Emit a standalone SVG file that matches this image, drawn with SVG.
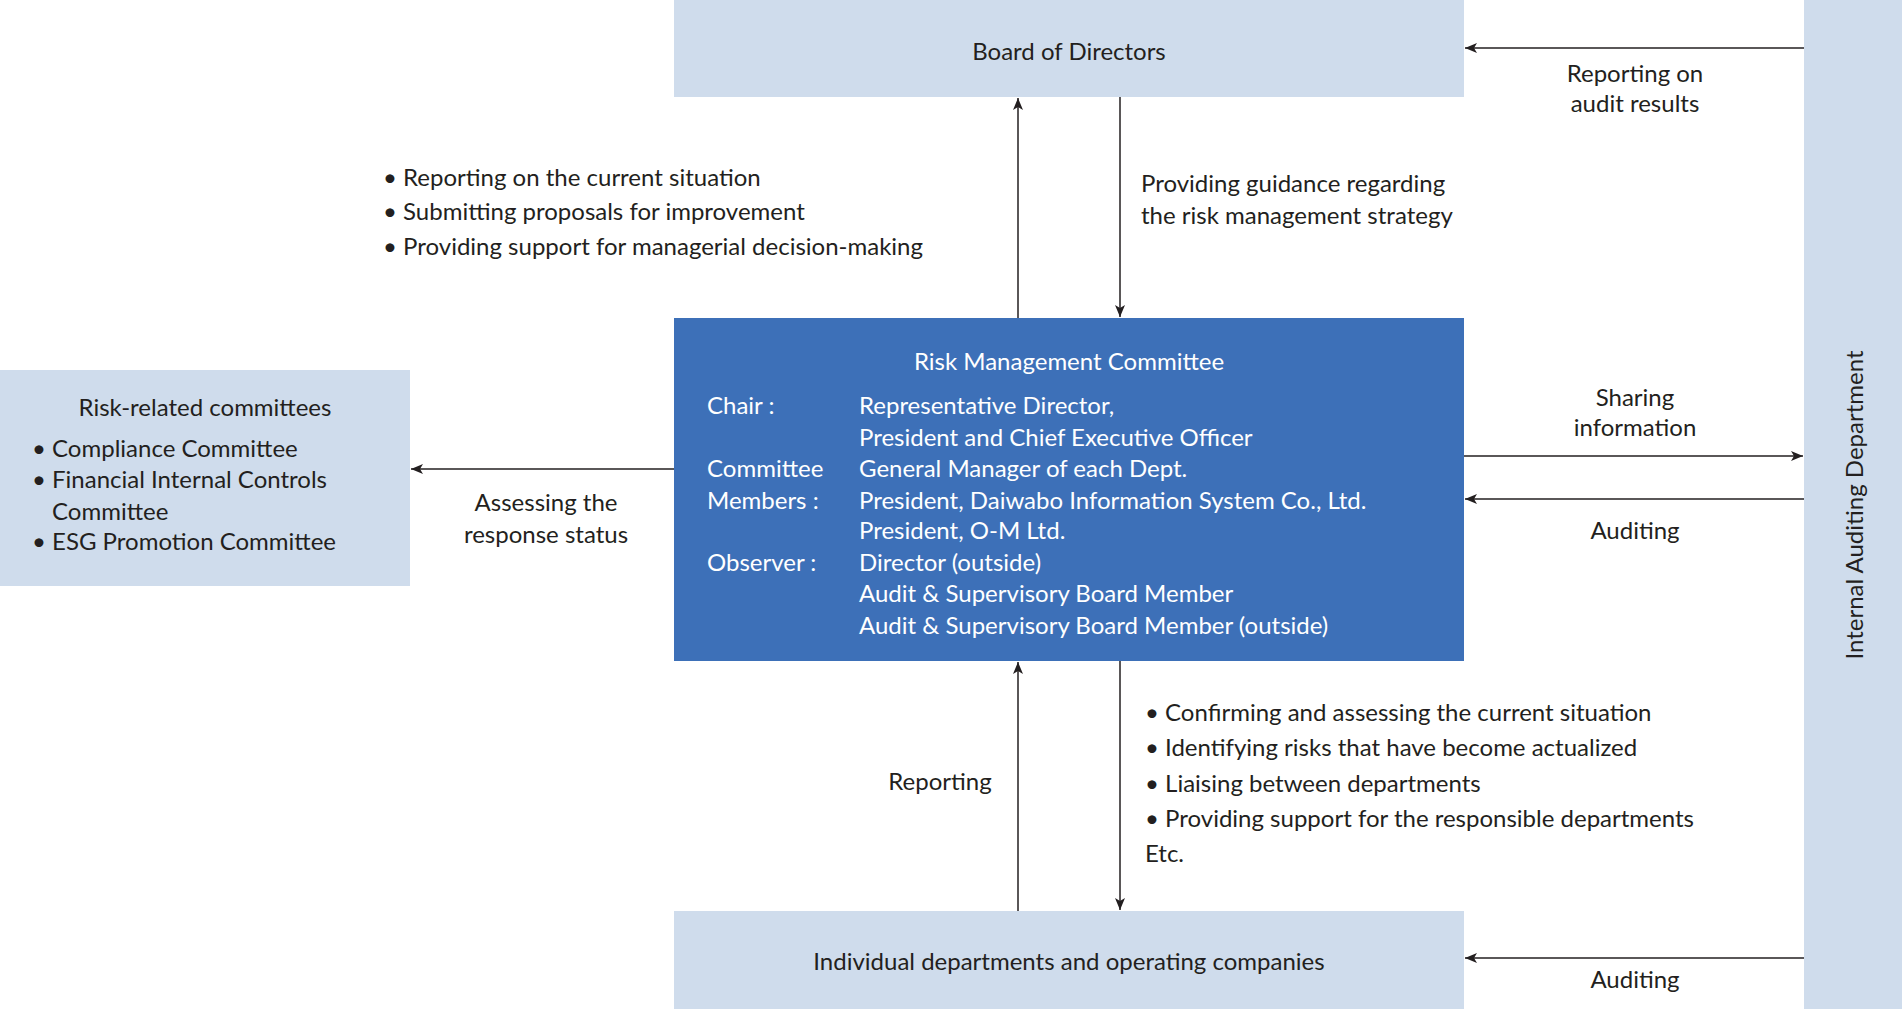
<svg xmlns="http://www.w3.org/2000/svg" width="1902" height="1009" viewBox="0 0 1902 1009">
<defs>
<marker id="ah" viewBox="0 0 12 10" refX="12" refY="5" markerWidth="12" markerHeight="10" markerUnits="userSpaceOnUse" orient="auto"><path d="M0,0 L12,5 L0,10 L3,5 z" fill="#231f20"/></marker>
<style>
text{font-family:Lato,"Open Sans",sans-serif;font-size:24px;fill:#231f20}
.c{text-anchor:middle}
.w{fill:#fff}
.lt{fill:#cfdcec}
line{stroke:#231f20;stroke-width:1.5;marker-end:url(#ah)}
</style>
</defs>
<rect width="1902" height="1009" fill="#fff"/>
<g id="board"><rect class="lt" x="674" y="0" width="790" height="97"/><text class="c" x="1069" y="60">Board of Directors</text></g>
<g id="rmc"><rect x="674" y="318" width="790" height="343" fill="#3d70b8"/>
<text class="c w" x="1069" y="370">Risk Management Committee</text>
<g class="w">
<text class="w" x="707" y="414">Chair :</text>
<text class="w" x="707" y="477">Committee</text>
<text class="w" x="707" y="509">Members :</text>
<text class="w" x="707" y="571">Observer :</text>
<text class="w" x="859" y="414">Representative Director,</text>
<text class="w" x="859" y="446">President and Chief Executive Officer</text>
<text class="w" x="859" y="477">General Manager of each Dept.</text>
<text class="w" x="859" y="509">President, Daiwabo Information System Co., Ltd.</text>
<text class="w" x="859" y="539">President, O-M Ltd.</text>
<text class="w" x="859" y="571">Director (outside)</text>
<text class="w" x="859" y="602">Audit &amp; Supervisory Board Member</text>
<text class="w" x="859" y="634">Audit &amp; Supervisory Board Member (outside)</text>
</g></g>
<g id="risk-related"><rect class="lt" x="0" y="370" width="410" height="216"/>
<text class="c" x="205" y="416">Risk-related committees</text>
<text x="32" y="457">• Compliance Committee</text>
<text x="32" y="488">• Financial Internal Controls</text>
<text x="52" y="520">Committee</text>
<text x="32" y="550">• ESG Promotion Committee</text></g>
<g id="individual"><rect class="lt" x="674" y="911" width="790" height="98"/><text class="c" x="1069" y="970">Individual departments and operating companies</text></g>
<g id="internal-audit"><rect class="lt" x="1804" y="0" width="98" height="1009"/><text class="c" transform="translate(1863,505) rotate(-90)">Internal Auditing Department</text></g>
<g id="connectors">
<line x1="1018" y1="318" x2="1018" y2="98"/>
<line x1="1120" y1="97" x2="1120" y2="317"/>
<line x1="674" y1="469" x2="411" y2="469"/>
<line x1="1464" y1="456" x2="1803" y2="456"/>
<line x1="1804" y1="499" x2="1465" y2="499"/>
<line x1="1804" y1="48" x2="1465" y2="48"/>
<line x1="1804" y1="958" x2="1465" y2="958"/>
<line x1="1018" y1="911" x2="1018" y2="662"/>
<line x1="1120" y1="661" x2="1120" y2="910"/>
</g>
<g id="labels">
<text class="c" x="1635" y="82">Reporting on</text>
<text class="c" x="1635" y="112">audit results</text>
<text x="383" y="186">• Reporting on the current situation</text>
<text x="383" y="220">• Submitting proposals for improvement</text>
<text x="383" y="255">• Providing support for managerial decision-making</text>
<text x="1141" y="192">Providing guidance regarding</text>
<text x="1141" y="224">the risk management strategy</text>
<text class="c" x="546" y="511">Assessing the</text>
<text class="c" x="546" y="543">response status</text>
<text class="c" x="1635" y="406">Sharing</text>
<text class="c" x="1635" y="436">information</text>
<text class="c" x="1635" y="539">Auditing</text>
<text class="c" x="1635" y="988">Auditing</text>
<text class="c" x="940" y="790">Reporting</text>
<text x="1145" y="721">• Confirming and assessing the current situation</text>
<text x="1145" y="756">• Identifying risks that have become actualized</text>
<text x="1145" y="792">• Liaising between departments</text>
<text x="1145" y="827">• Providing support for the responsible departments</text>
<text x="1145" y="862">Etc.</text>
</g>
</svg>
